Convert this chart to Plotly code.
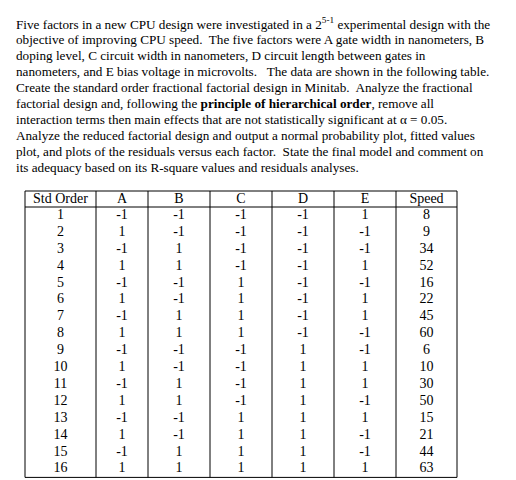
import plotly.graph_objects as go

paragraph = [
    "Five factors in a new CPU design were investigated in a 2<sup>5-1</sup> experimental design with the",
    "objective of improving CPU speed.  The five factors were A gate width in nanometers, B",
    "doping level, C circuit width in nanometers, D circuit length between gates in",
    "nanometers, and E bias voltage in microvolts.   The data are shown in the following table.",
    "Create the standard order fractional factorial design in Minitab.  Analyze the fractional",
    "factorial design and, following the <b>principle of hierarchical order</b>, remove all",
    "interaction terms then main effects that are not statistically significant at \u03b1 = 0.05.",
    "Analyze the reduced factorial design and output a normal probability plot, fitted values",
    "plot, and plots of the residuals versus each factor.  State the final model and comment on",
    "its adequacy based on its R-square values and residuals analyses.",
]

headers = ["Std Order", "A", "B", "C", "D", "E", "Speed"]
std_order = list(range(1, 17))
A = [-1, 1, -1, 1, -1, 1, -1, 1, -1, 1, -1, 1, -1, 1, -1, 1]
B = [-1, -1, 1, 1, -1, -1, 1, 1, -1, -1, 1, 1, -1, -1, 1, 1]
C = [-1, -1, -1, -1, 1, 1, 1, 1, -1, -1, -1, -1, 1, 1, 1, 1]
D = [-1, -1, -1, -1, -1, -1, -1, -1, 1, 1, 1, 1, 1, 1, 1, 1]
E = [1, -1, -1, 1, -1, 1, 1, -1, -1, 1, 1, -1, 1, -1, -1, 1]
speed = [8, 9, 34, 52, 16, 22, 45, 60, 6, 10, 30, 50, 15, 21, 44, 63]
columns = [std_order, A, B, C, D, E, speed]

# pixel layout of the page
col_edges = [17, 88, 140, 202, 264, 326, 388, 449]
top, head_h, row_h = 183, 16, 16.9
font = dict(family="Liberation Serif", size=14, color="black")
text_font = dict(family="Liberation Serif", size=13.2, color="black")

fig = go.Figure()
for i, col in enumerate(columns):
    xc = (col_edges[i] + col_edges[i + 1]) / 2
    fig.add_trace(go.Scatter(
        x=[xc] * (len(col) + 1),
        y=[top + head_h / 2] + [top + head_h + row_h * (r + 0.5) for r in range(len(col))],
        mode="text", text=[headers[i]] + [str(v) for v in col],
        textfont=font, hoverinfo="skip", showlegend=False))

bottom = top + head_h + row_h * len(speed)
line = dict(color="black", width=1)
shapes = [dict(type="rect", x0=col_edges[0], x1=col_edges[-1], y0=top, y1=bottom, line=line),
          dict(type="line", x0=col_edges[0], x1=col_edges[-1], y0=top + head_h, y1=top + head_h, line=line)]
for xe in col_edges[1:-1]:
    shapes.append(dict(type="line", x0=xe, x1=xe, y0=top, y1=bottom, line=line))

annotations = [dict(x=6, y=15 + 16 * k, text=t, xanchor="left", yanchor="middle",
                    showarrow=False, font=text_font, xref="x", yref="y")
               for k, t in enumerate(paragraph)]

fig.update_layout(
    width=516, height=480, margin=dict(l=0, r=0, t=0, b=0),
    paper_bgcolor="white", plot_bgcolor="white",
    xaxis=dict(range=[0, 516], visible=False, fixedrange=True),
    yaxis=dict(range=[480, 0], visible=False, fixedrange=True),
    shapes=shapes, annotations=annotations,
)
fig.write_html("out.html")
